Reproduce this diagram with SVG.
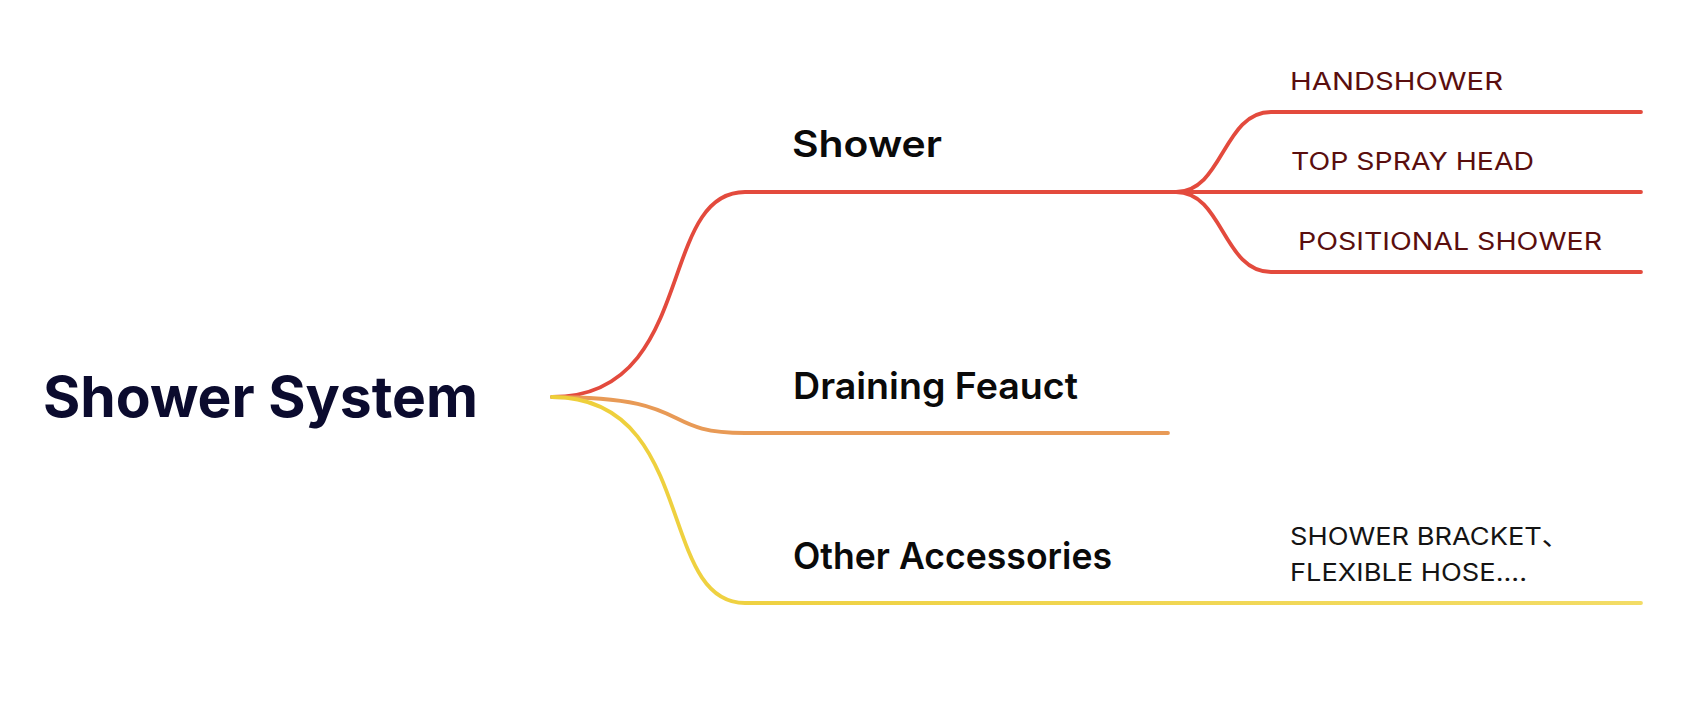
<svg xmlns="http://www.w3.org/2000/svg" width="1693" height="726" viewBox="0 0 1693 726">
  <defs>
    <linearGradient id="gYellow" gradientUnits="userSpaceOnUse" x1="552" y1="0" x2="1642" y2="0">
      <stop offset="0" stop-color="#eecf3a"/>
      <stop offset="1" stop-color="#f3dc66"/>
    </linearGradient>
  </defs>
  <style>
    .bg { fill: #ffffff; }
    .conn { fill: none; stroke-width: 3.8; stroke-linecap: round; }
    .red { stroke: #e34a3d; }
    .orange { stroke: #e89a56; }
    .yellow { stroke: url(#gYellow); }
    .root { font-family: "Inter", "Liberation Sans", sans-serif; font-weight: 700; font-size: 56px; fill: #0b0b2e; }
    .main { font-family: "Inter", "Liberation Sans", sans-serif; font-weight: 600; font-size: 37px; fill: #0a0a0a; }
    .sub { font-family: "Inter", "Liberation Sans", "Noto Sans CJK SC", sans-serif; font-weight: 400; font-size: 24.5px; fill: #5a0e0e; }
    .subdark { font-family: "Inter", "Liberation Sans", "Noto Sans CJK SC", sans-serif; font-weight: 400; font-size: 24.5px; fill: #141414; }
  </style>
  <rect class="bg" x="0" y="0" width="1693" height="726"/>

  <g id="connectors">
    <path class="conn red" d="M552,397 C698,397 656,192 745,192 L1176,192"/>
    <path class="conn orange" d="M552,397 C698,397 656,433 745,433 L1168,433"/>
    <path class="conn yellow" d="M552,397 C698,397 656,603 745,603 L1641,603"/>
    <path class="conn red" d="M1176,192 C1223,192 1223,112 1271,112 L1641,112"/>
    <path class="conn red" d="M1176,192 L1641,192"/>
    <path class="conn red" d="M1176,192 C1223,192 1223,272 1271,272 L1641,272"/>
  </g>

  <g id="node-root">
    <text class="root" x="43" y="417" textLength="435" lengthAdjust="spacingAndGlyphs">Shower System</text>
  </g>
  <g id="node-shower">
    <text class="main" x="792" y="157" textLength="150" lengthAdjust="spacingAndGlyphs">Shower</text>
  </g>
  <g id="node-draining">
    <text class="main" x="793" y="399" textLength="285" lengthAdjust="spacingAndGlyphs">Draining Feauct</text>
  </g>
  <g id="node-other">
    <text class="main" x="793" y="569" textLength="319" lengthAdjust="spacingAndGlyphs">Other Accessories</text>
  </g>
  <g id="node-handshower">
    <text class="sub" x="1290" y="90" textLength="213" lengthAdjust="spacingAndGlyphs">HANDSHOWER</text>
  </g>
  <g id="node-topspray">
    <text class="sub" x="1291" y="170" textLength="243" lengthAdjust="spacingAndGlyphs">TOP SPRAY HEAD</text>
  </g>
  <g id="node-positional">
    <text class="sub" x="1298" y="250" textLength="304" lengthAdjust="spacingAndGlyphs">POSITIONAL SHOWER</text>
  </g>
  <g id="node-accessories-detail">
    <text class="subdark" x="1290" y="545" textLength="279" lengthAdjust="spacingAndGlyphs">SHOWER BRACKET、</text>
    <text class="subdark" x="1290" y="581" textLength="237" lengthAdjust="spacingAndGlyphs">FLEXIBLE HOSE....</text>
  </g>
</svg>
